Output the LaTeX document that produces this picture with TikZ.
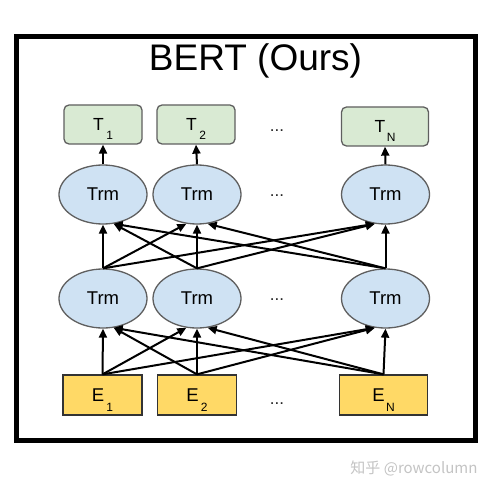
\documentclass[tikz,border=0pt]{standalone}
\usepackage{fontspec}
\setmainfont{Liberation Sans}
\newfontfamily\cjkfont{Noto Sans CJK SC}
\usetikzlibrary{shapes.geometric,arrows.meta}
\definecolor{trmfill}{HTML}{CFE2F3}
\definecolor{tfill}{HTML}{D9EAD3}
\definecolor{efill}{HTML}{FFD966}
\definecolor{edgegray}{HTML}{5F5F5F}
\definecolor{wmgray}{HTML}{C4C4C4}
\newcommand{\sublbl}[4]{#1\hspace{#4}\raisebox{-#3}[0pt][0pt]{\fontsize{12}{12}\selectfont #2}}
\begin{document}
\begin{tikzpicture}[x=1pt,y=-1pt,
  trm/.style={ellipse,draw=edgegray,line width=1.3pt,fill=trmfill,minimum width=88pt,minimum height=59pt,inner sep=0pt,font=\fontsize{18.5}{18.5}\selectfont},
  tbox/.style={rectangle,rounded corners=5pt,draw=edgegray,line width=1.3pt,fill=tfill,minimum width=78pt,minimum height=39pt,inner sep=0pt,font=\fontsize{17.5}{17.5}\selectfont},
  ebox/.style={rectangle,draw=black!80,line width=1.3pt,fill=efill,minimum width=79pt,minimum height=40pt,inner sep=0pt,font=\fontsize{18.5}{18.5}\selectfont},
  dots/.style={font=\fontsize{17}{17}\selectfont,text=black!85},
  arr/.style={line width=2pt,-{Triangle[length=9pt,width=8pt]}}]
\useasboundingbox (0,0) rectangle (492,489);
\fill[white] (0,0) rectangle (492,489);
% frame
\node[draw=black,line width=4.8pt,minimum width=459.5pt,minimum height=404.5pt,inner sep=0pt] (frame) at (246,238.5) {};
\node[font=\fontsize{37}{37}\selectfont] (title) at (255.5,61) {BERT (Ours)};
% outputs
\node[tbox] (t1) at (103,124.5) {\sublbl{T}{1}{9pt}{2.5pt}};
\node[tbox] (t2) at (196,124.5) {\sublbl{T}{2}{9pt}{2.5pt}};
\node[tbox,minimum width=87pt] (tn) at (385,126.5) {\sublbl{T}{N}{9pt}{1.5pt}};
\node[dots] (td) at (277,131) {...};
% upper Trm
\node[trm] (u1) at (103,194.5) {Trm};
\node[trm] (u2) at (197,194.5) {Trm};
\node[trm] (un) at (385.5,194.5) {Trm};
\node[dots] (ud) at (277,196) {...};
% lower Trm
\node[trm] (l1) at (103,298.5) {Trm};
\node[trm] (l2) at (197,298.5) {Trm};
\node[trm] (ln) at (385.5,298.5) {Trm};
\node[dots] (ld) at (277,300) {...};
% inputs
\node[ebox] (e1) at (102.5,395) {\sublbl{E}{1}{10pt}{2pt}};
\node[ebox] (e2) at (197,395) {\sublbl{E}{2}{10pt}{2pt}};
\node[ebox,minimum width=88pt] (en) at (383.5,395) {\sublbl{E}{N}{10pt}{1.5pt}};
\node[dots] (ed) at (277,404) {...};
% top arrows
\draw[arr] (u1.north) -- (t1.south);
\draw[arr] (u2.north) -- (t2.south);
\draw[arr] (un.north) -- (tn.south);
% lower Trm -> upper Trm
\draw[arr] (l1.north) -- (u1.south);
\draw[arr] (l1.north) -- (u2.-110);
\draw[arr] (l1.north) -- (un.-110);
\draw[arr] (l2.north) -- (u1.-70);
\draw[arr] (l2.north) -- (u2.south);
\draw[arr] (l2.north) -- (un.-110);
\draw[arr] (ln.north) -- (u1.-70);
\draw[arr] (ln.north) -- (u2.-70);
\draw[arr] (ln.north) -- (un.south);
% E -> lower Trm
\draw[arr] (e1.north) -- (l1.south);
\draw[arr] (e1.north) -- (l2.-110);
\draw[arr] (e1.north) -- (ln.-110);
\draw[arr] (e2.north) -- (l1.-70);
\draw[arr] (e2.north) -- (l2.south);
\draw[arr] (e2.north) -- (ln.-110);
\draw[arr] (en.north) -- (l1.-70);
\draw[arr] (en.north) -- (l2.-70);
\draw[arr] (en.north) -- (ln.south);
% watermark
\node[font=\cjkfont\fontsize{15}{15}\selectfont,text=wmgray,anchor=east] (wm) at (481,468) {知乎 @rowcolumn};
\end{tikzpicture}
\end{document}
